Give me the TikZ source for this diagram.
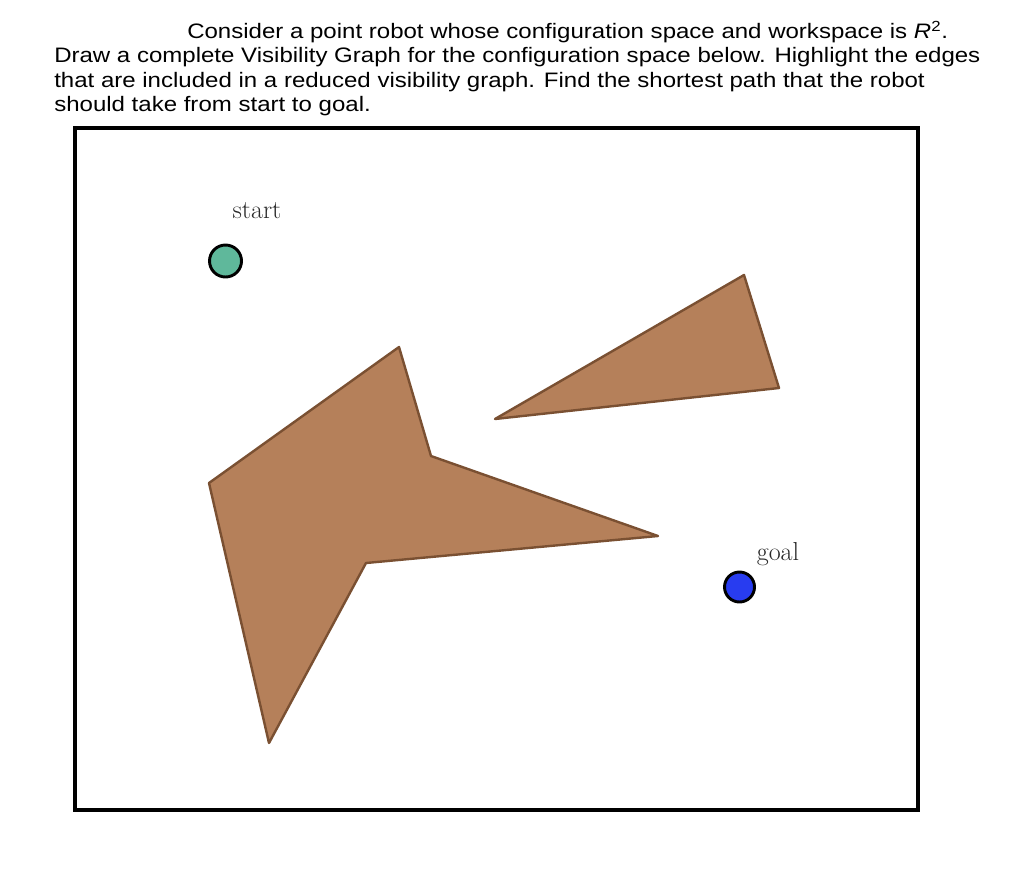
\documentclass[tikz,border=0pt]{standalone}
\usepackage{fontspec}
\newfontfamily\qfont[FakeStretch=1.148]{Liberation Sans}
\definecolor{obst}{RGB}{181,128,90}
\definecolor{obstedge}{RGB}{122,80,50}
\definecolor{startcol}{RGB}{95,184,155}
\definecolor{goalcol}{RGB}{40,60,240}
\definecolor{labcol}{RGB}{40,40,40}

\begin{document}
\begin{tikzpicture}[x=0.75pt, y=-0.75pt,
		qline/.style={anchor=base west, inner sep=0pt, font=\qfont\fontsize{15.7}{18}\selectfont},
		obstacle/.style={fill=obst, draw=obstedge, line width=1.8pt, line join=round},
		tag/.style={inner sep=0pt, text=labcol, font=\fontsize{19.5}{22}\selectfont}]
	\useasboundingbox (0,0) rectangle (1024,875);
	\node[qline] (L1)at(187, 38) {Consider a point robot whose configuration space and workspace is \textit{R}\textsuperscript{2}.};
	\node[qline] (L2)at(54, 62.7) {Draw a complete Visibility Graph for the configuration space below. Highlight the edges};
	\node[qline] (L3)at(54, 87) {that are included in a reduced visibility graph. Find the shortest path that the robot};
	\node[qline] (L4)at(54, 111.7) {should take from start to goal.};
	\draw[line width=3pt] (75, 128) rectangle (918, 810);
	\filldraw[obstacle] (399, 347) -- (431, 456) -- (658, 536) -- (366, 563) -- (269, 743) -- (209, 483) -- cycle;
	\filldraw[obstacle] (495, 419) -- (744, 275) -- (779, 388) -- cycle;
	\node[draw, circle, fill=startcol, line width=2.2pt, minimum size=24pt, inner sep=0pt] (S)at(225.5, 261) {};
	\node[draw, circle, fill=goalcol, line width=2.2pt, minimum size=22.5pt, inner sep=0pt] (G)at(739.5, 587) {};
	\node[tag] (ST)at(257, 211) {start};
	\node[tag] (GL)at(778, 554) {goal};
\end{tikzpicture}
\end{document}
